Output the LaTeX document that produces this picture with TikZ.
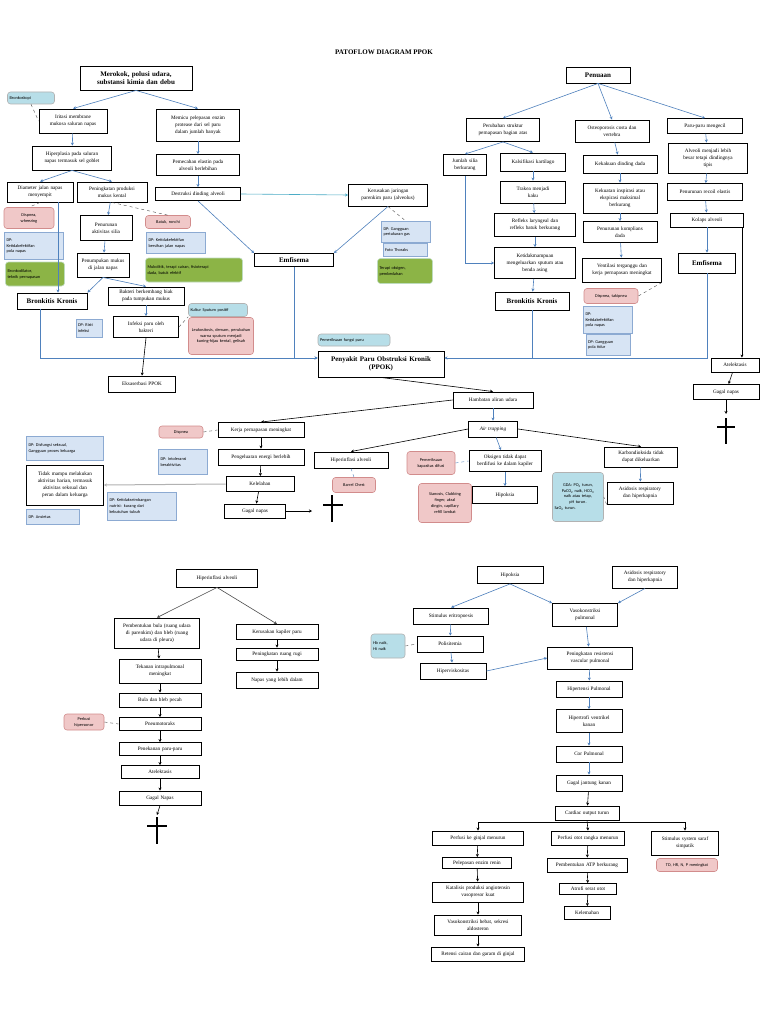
\documentclass[tikz,border=0pt]{standalone}
\usepackage{fontspec}
\setmainfont{Liberation Serif}
\setsansfont{Carlito}
\usetikzlibrary{arrows.meta}
\hyphenpenalty=10000 \exhyphenpenalty=10000
\definecolor{bl}{RGB}{79,129,189}
\definecolor{cy}{RGB}{75,172,198}
\definecolor{grn}{RGB}{140,180,70}
\definecolor{rf}{RGB}{240,200,200}
\definecolor{rd}{RGB}{210,140,140}
\definecolor{cf}{RGB}{183,222,232}
\definecolor{df}{RGB}{215,228,244}
\definecolor{dd}{RGB}{140,170,210}
\newcommand\B[6]{\pgfmathsetmacro\tw{#4-4}\node[box,minimum width=#4pt,minimum height=#5pt,text width=\tw pt] (#1) at (#2,#3) {#6};}
\newcommand\BB[6]{\pgfmathsetmacro\tw{#4-4}\node[box,big,minimum width=#4pt,minimum height=#5pt,text width=\tw pt] (#1) at (#2,#3) {#6};}
\newcommand\NT[7]{\pgfmathsetmacro\tw{#5-4}\node[#1,minimum width=#5pt,minimum height=#6pt,text width=\tw pt] (#2) at (#3,#4) {#7};}
\tikzset{
 box/.style={draw,line width=0.9pt,fill=white,inner xsep=2pt,inner ysep=1pt,align=center,font=\fontsize{5.2}{7}\selectfont},
 big/.style={font=\fontsize{7}{8.5}\selectfont\bfseries},
 note/.style={rounded corners=3pt,draw,line width=0.6pt,inner xsep=2pt,inner ysep=1pt,font=\sffamily\fontsize{4.3}{5.8}\selectfont},
 rn/.style={note,fill=rf,draw=rd,align=center},
 cn/.style={note,fill=cf,draw=gray!60,align=left},
 dn/.style={note,rounded corners=0pt,fill=df,draw=dd,align=left},
 gn/.style={note,fill=grn,draw=green!30!gray!40,align=left},
 ba/.style={draw=bl,-{Stealth[length=3pt,width=3pt]},line width=0.6pt},
 ka/.style={draw=black,-{Stealth[length=3pt,width=3pt]},line width=0.6pt},
 dl/.style={dashed,line width=0.4pt,draw=black!70},
 crs/.style={line width=1.3pt}
}
\begin{document}
\begin{tikzpicture}[x=1pt,y=-1pt]
\useasboundingbox[fill=white] (0,0) rectangle (768,1024);
\node[font=\fontsize{7}{8}\selectfont\bfseries] (title) at (384,52) {PATOFLOW DIAGRAM PPOK};
% ---------- top left
\BB{m}{136}{78}{112}{24}{Merokok, polusi udara,\\ substansi kimia dan debu}
\NT{cn}{bro}{31}{98}{47}{12}{Bronkoskopi}
\B{iri}{73}{121}{68}{24}{Iritasi membrane\\ mukosa saluran napas}
\B{mem}{198}{125}{83}{32}{Memicu pelepasan enzim\\ protease dari sel paru\\ dalam jumlah banyak}
\B{hip}{72}{158}{79}{24}{Hiperplasia pada saluran\\ napas termasuk sel goblet}
\B{pem}{198}{165}{83}{21}{Pemecahan elastin pada\\ alveoli berlebihan}
\B{dia}{40}{192}{66}{20}{Diameter jalan napas\\ menyempit}
\B{pen}{112}{192}{70}{20}{Peningkatan produksi\\ mukus kental}
\B{des}{198}{194}{85}{13}{Destruksi dinding alveoli}
\NT{rn}{dis1}{29}{218}{50}{21}{Dispnea,\\ wheezing}
\NT{dn}{dp1}{34}{246}{59}{27}{DP:\\ Ketidakefektifan\\ pola napas}
\NT{gn}{bkd}{35}{274}{59}{24}{Bronkodilator,\\ teknik pernapasan}
\NT{rn}{bat}{168}{222}{45}{13}{Batuk, ronchi}
\NT{dn}{dp2}{176}{243}{59}{21}{DP: Ketidakefektifan\\ bersihan jalan napas}
\B{sil}{106}{228}{52}{25}{Penurunan\\ aktivitas silia}
\B{tum}{103}{265}{52}{24}{Penumpukan mukus\\ di jalan napas}
\NT{gn}{muk}{194}{270}{97}{24}{Mukolitik, terapi cairan, fisioterapi\\ dada, batuk efektif}
\BB{emf}{294}{260}{79}{13}{Emfisema}
\BB{bk1}{52}{301}{70}{16}{Bronkitis Kronis}
\B{bak}{146}{296}{76}{18}{Bakteri berkembang biak\\ pada tumpukan mukus}
\B{inf}{146}{327}{65}{21}{Infeksi paru oleh\\ bakteri}
\NT{dn}{dpr}{89}{328}{26}{18}{DP: Risti\\ infeksi}
\NT{cn}{kul}{218}{310}{59}{13}{Kultur Sputum positif}
\NT{rn}{leu}{221}{336}{65}{37}{\raggedright Leukositosis, demam, perubahan warna sputum menjadi kuning-hijau kental, gelisah}
\NT{cn}{pfp}{354}{340}{72}{12}{Pemeriksaan fungsi paru}
\BB{ppok}{381}{364}{126}{26}{Penyakit Paru Obstruksi Kronik\\ (PPOK)}
\B{eks}{142}{384}{67}{16}{Eksaserbasi PPOK}
% ---------- top middle / right
\B{ker}{388}{195}{79}{22}{Kerusakan jaringan\\ parenkim paru (alveolus)}
\NT{dn}{dpg}{406}{232}{49}{21}{DP: Gangguan\\ pertukaran gas}
\NT{dn}{fot}{405}{250}{44}{13}{\centering Foto Thoraks}
\NT{gn}{ter}{405}{271}{55}{25}{Terapi oksigen,\\ pembedahan}
\BB{pnu}{598}{75}{64}{16}{Penuaan}
\B{pst}{503}{130}{73}{23}{Perubahan struktur\\ pernapasan bagian atas}
\B{ost}{612}{131}{74}{22}{Osteoporosis costa dan\\ vertebra}
\B{pmg}{705}{126}{75}{15}{Paru-paru mengecil}
\B{jsi}{465}{165}{43}{21}{Jumlah silia\\ berkurang}
\B{kal}{533}{162}{65}{18}{Kalsifikasi kartilago}
\B{kek}{620}{164}{74}{18}{Kekakuan dinding dada}
\B{alv}{708}{158}{79}{30}{Alveoli menjadi lebih\\ besar tetapi dindingnya\\ tipis}
\B{tra}{533}{192}{65}{22}{Trakea menjadi\\ kaku}
\B{kin}{620}{198}{74}{30}{Kekuatan inspirasi atau\\ ekspirasi maksimal\\ berkurang}
\B{rec}{705}{192}{75}{17}{Penurunan recoil elastis}
\B{kol}{707}{220}{73}{14}{Kolaps alveoli}
\B{ref}{535}{225}{81}{23}{Refleks laryngeal dan\\ refleks batuk berkurang}
\B{kom}{620}{232}{74}{21}{Penurunan komplians\\ dada}
\B{ktd}{535}{263}{81}{31}{Ketidakmampuan\\ mengeluarkan sputum atau\\ benda asing}
\B{ven}{622}{270}{79}{24}{Ventilasi terganggu dan\\ kerja pernapasan meningkat}
\BB{emf2}{707}{263}{57}{20}{Emfisema}
\BB{bk2}{532}{301}{74}{18}{Bronkitis Kronis}
\NT{rn}{dtk}{611}{296}{54}{15}{Dispnea, takipnea}
\NT{dn}{dp3}{608}{320}{49}{27}{DP:\\ Ketidakefektifan\\ pola napas}
\NT{dn}{dp4}{608}{345}{44}{21}{DP: Gangguan\\ pola tidur}
\B{ate}{735}{365}{48}{14}{Atelektasis}
\B{gn1}{726}{392}{66}{15}{Gagal napas}
% ---------- middle
\B{ham}{493}{400}{80}{16}{Hambatan aliran udara}
\B{air}{493}{429}{49}{16}{\textit{Air trapping}}
\B{hin}{351}{460}{74}{16}{Hiperinflasi alveoli}
\NT{rn}{bar}{354}{485}{43}{15}{Barrel Chest}
\NT{rn}{pkd}{431}{463}{48}{23}{Pemeriksaan\\ kapasitas difusi}
\B{oks}{505}{461}{72}{21}{Oksigen tidak dapat\\ berdifusi ke dalam kapiler}
\B{hpk}{505}{495}{65}{17}{Hipoksia}
\NT{rn}{sia}{445}{503}{53}{39}{Sianosis, Clubbing\\ finger, akral\\ dingin, capillary\\ refill lambat}
\B{kdk}{641}{457}{73}{20}{Karbondioksida tidak\\ dapat dikeluarkan}
\NT{cn}{gda}{578}{497}{51}{49}{\centering GDA: PO\textsubscript{2} turun,\\ PaCO\textsubscript{2} naik, HCO\textsubscript{3}\\ naik atau tetap,\\ pH turun.\\ SaO\textsubscript{2} turun.}
\B{asi}{640}{493}{66}{22}{Asidosis respiratory\\ dan hiperkapnia}
\NT{rn}{dsp}{181}{432}{44}{12}{Dispnea}
\B{kpm}{261}{430}{86}{15}{Kerja pernapasan meningkat}
\NT{dn}{dpd}{65}{448}{77}{24}{DP: Disfungsi seksual,\\ Gangguan proses keluarga}
\NT{dn}{dpi}{183}{462}{49}{25}{DP: Intoleransi\\ beraktivitas}
\B{pen2}{261}{457}{86}{16}{Pengeluaran energi berlebih}
\B{tdk}{65}{485}{77}{40}{Tidak mampu melakukan\\ aktivitas harian, termasuk\\ aktivitas seksual dan\\ peran dalam keluarga}
\B{kel}{260}{484}{68}{15}{Kelelahan}
\NT{dn}{dpk}{142}{506}{69}{28}{DP: Ketidakseimbangan\\ nutrisi: kurang dari\\ kebutuhan tubuh}
\NT{dn}{ans}{53}{517}{53}{15}{DP: Ansietas}
\B{gn2}{255}{511}{61}{14}{Gagal napas}
% ---------- bottom left
\B{h2}{217}{578}{81}{18}{Hiperinflasi alveoli}
\B{bul}{157}{633}{85}{30}{Pembentukan bula (ruang udara\\ di parenkim) dan bleb (ruang\\ udara di pleura)}
\B{kkp}{277}{632}{82}{15}{Kerusakan kapiler paru}
\B{prr}{277}{654}{82}{12}{Peningkatan ruang rugi}
\B{nld}{277}{680}{82}{16}{Napas yang lebih dalam}
\B{tip}{160}{671}{82}{24}{Tekanan intrapulmonal\\ meningkat}
\B{bbp}{160}{700}{82}{14}{Bula dan bleb pecah}
\B{pnt}{160}{724}{82}{13}{Pneumotoraks}
\NT{rn}{phs}{84}{722}{40}{16}{Perkusi\\ hipersonor}
\B{pkp}{160}{749}{82}{13}{Penekanan paru-paru}
\B{ate2}{160}{772}{78}{13}{Atelektasis}
\B{gn3}{160}{798}{82}{14}{Gagal Napas}
% ---------- bottom right
\B{hpx}{510}{575}{66}{17}{Hipoksia}
\B{as2}{645}{577}{65}{22}{Asidosis respiratory\\ dan hiperkapnia}
\B{ste}{451}{616}{75}{16}{Stimulus eritropoesis}
\B{vas}{585}{615}{65}{23}{Vasokonstriksi\\ pulmonal}
\B{pol}{450}{644}{66}{16}{Polisitemia}
\NT{cn}{hbn}{388}{646}{34}{24}{Hb naik,\\ Ht naik}
\B{hvs}{453}{671}{66}{16}{Hiperviskositas}
\B{prv}{590}{658}{85}{22}{Peningkatan resistensi\\ vascular pulmonal}
\B{hpt}{589}{689}{66}{16}{Hipertensi Pulmonal}
\B{hvk}{589}{721}{66}{23}{Hipertrofi ventrikel\\ kanan}
\B{cor}{589}{754}{66}{16}{Cor Pulmonal}
\B{gjk}{589}{783}{66}{16}{Gagal jantung kanan}
\B{cot}{587}{813}{64}{14}{Cardiac output turun}
\B{pgi}{478}{838}{91}{14}{Perfusi ke ginjal menurun}
\B{pot}{588}{838}{73}{14}{Perfusi otot rangka menurun}
\B{sss}{685}{843}{67}{24}{Stimulus system saraf\\ simpatik}
\NT{rn}{tdr}{687}{865}{61}{13}{TD, HR, N, P meningkat}
\B{per}{477}{863}{69}{11}{Pelepasan enzim renin}
\B{atp}{587}{865}{80}{14}{Pembentukan ATP berkurang}
\B{kat}{478}{892}{91}{20}{Katalisis produksi angiotensin\\ vasopresor kuat}
\B{aso}{588}{889}{57}{11}{Atrofi serat otot}
\B{kln}{587}{913}{46}{13}{Kelemahan}
\B{vkh}{478}{925}{87}{20}{Vasokonstriksi hebat, sekresi\\ aldosteron}
\B{ret}{478}{954}{93}{14}{Retensi cairan dan garam di ginjal}
% ---------- connectors top left
\draw[ba] (m.south) -- (iri.north);
\draw[ba] (m.south) -- (mem.north);
\draw[dl] (bro.south) -- (iri.west);
\draw[ba] (iri) -- (hip);
\draw[ba] (hip.south) -- (dia.north);
\draw[ba] (hip.south) -- (pen.north);
\draw[dl] (dia.south) -- (dis1.north);
\draw[ba] ([xshift=18pt]dia.south) -- ([xshift=18pt]dia.south |- bk1.north);
\draw[ba] (pen) -- (sil);
\draw[dl] (pen.south) -- (bat.north);
\draw[ba] (sil) -- (tum);
\draw[ba] (tum.south) -- (bk1.north east);
\draw[ba] (tum.south) -- (bak.north);
\draw[ba] (bak) -- (inf);
\draw[dl] (inf.east) -- (kul.south west);
\draw[ka] (inf.south) -- (eks.north);
\coordinate (pl) at ([yshift=6pt]ppok.west);
\coordinate (pr) at ([yshift=6pt]ppok.east);
\draw[ba] ([xshift=-12pt]bk1.south) |- (pl);
\draw[ba] (emf.south) |- (pl);
\draw[ba] (mem) -- (pem);
\draw[ba] (pem) -- (des);
\draw[draw=cy,-{Stealth[length=3pt,width=3pt]},line width=0.6pt] (des.east) -- (ker.west);
\draw[ba] (des.south) -- (emf.north west);
\draw[ba] (ker.south) -- (emf.north east);
\draw[dl] (ker.south) -- (dpg.north);
% ---------- connectors top right
\draw[ba] (pnu.south) -- (pst.north);
\draw[ba] (pnu.south) -- (ost.north);
\draw[ba] (pnu.south) -- (pmg.north);
\draw[ba] (pst.south) -- (jsi.north);
\draw[ba] (pst.south) -- (kal.north);
\draw[ba] (jsi.south) |- (ktd.west);
\draw[ba] (kal) -- (tra);
\draw[ba] (tra) -- (ref);
\draw[ba] (ref) -- (ktd);
\draw[ba] (ktd) -- (bk2);
\draw[ba] (ost) -- (kek);
\draw[ba] (kek) -- (kin);
\draw[ba] (kin) -- (kom);
\draw[ba] (kom) -- (ven);
\draw[dl] (ven.south east) -- (dtk.east);
\draw[ba] (pmg) -- (alv);
\draw[ba] (alv) -- (rec);
\draw[ba] (rec) -- (kol);
\draw[ba] (kol) -- (emf2);
\draw[ka] ([xshift=-2pt]kol.south east) -- ([xshift=-2pt]kol.south east |- ate.north);
\draw[ba] (emf2.south) |- (pr);
\draw[draw=bl,line width=0.6pt] (bk2.south) -- (bk2.south |- pr);
\draw[ka] (ate) -- (gn1);
\coordinate (x1) at (726,414);
\draw[ka] (gn1.south) -- (x1);
\draw[crs] (726,418) -- (726,444) (717,427) -- (735,427);
% ---------- middle
\draw[ka] (ppok.south) -- (ham.north);
\draw[ka] (ham.west) -- (kpm.north);
\draw[ba] (ham) -- (air);
\draw[ka] (air.west) -- (hin.north);
\draw[ba] (air) -- (oks);
\draw[ka] (air.east) -- (kdk.north);
\draw[dl,draw=bl] (hin.south) -- (bar.north);
\draw[dl,draw=bl] (pkd.east) -- (oks.west);
\draw[ba] (oks) -- (hpk);
\draw[dl] (hpk.south west) -- (sia.east);
\draw[ba] (kdk) -- (asi);
\draw[dl] (asi.south west) -- (gda.east);
\draw[dl] (dsp.east) -- (kpm.west);
\draw[ka] (kpm) -- (pen2);
\draw[ka] (pen2) -- (kel);
\draw[ka] (kel) -- (gn2);
\draw[ka,draw=gray!60,line width=1pt] (kel.west) -- (tdk.east);
\coordinate (x2) at (312,511);
\draw[ka] (gn2.east) -- (x2);
\draw[crs] (332,495) -- (332,522) (323,505) -- (343,505);
% ---------- bottom left
\draw[ka,draw=black!70] (h2.south) -- (bul.north);
\draw[ka,draw=black!70] (h2.south) -- (kkp.north);
\draw[ka] (bul) -- (tip);
\draw[ka] (tip) -- (bbp);
\draw[ka] (bbp) -- (pnt);
\draw[ka] (pnt) -- (pkp);
\draw[ka] (pkp) -- (ate2);
\draw[ka] (ate2) -- (gn3);
\draw[dl] (phs.east) -- (pnt.west);
\draw[ka] (kkp) -- (prr);
\draw[ka] (prr) -- (nld);
\coordinate (x3) at (157,815);
\draw[ka] (gn3.south) -- (x3);
\draw[crs] (157,817) -- (157,844) (147,826) -- (167,826);
% ---------- bottom right
\draw[ba] (hpx.south) -- (ste.north);
\draw[ba] (hpx.south) -- (vas.north west);
\draw[ba] (as2.south) -- (vas.north east);
\draw[ba] (ste) -- (pol);
\draw[ba] (pol) -- (hvs);
\draw[ba] (hvs.east) -- (prv.west);
\draw[dl] (hbn.east) -- (pol.west);
\draw[ba] (vas) -- (prv);
\draw[ba] (prv) -- (hpt);
\draw[ba] (hpt) -- (hvk);
\draw[ba] (hvk) -- (cor);
\draw[ba] (cor) -- (gjk);
\draw[ka] (gjk) -- (cot);
\coordinate (cb) at (587,822);
\draw[ka] (cot.south) -- (pot.north);
\draw[ka] (cb) -| (pgi.north);
\draw[ka] (cb) -| (sss.north);
\draw[ka] (pgi) -- (per);
\draw[ka] (per) -- (kat);
\draw[ka] (kat) -- (vkh);
\draw[ka] (vkh) -- (ret);
\draw[ka] (pot) -- (atp);
\draw[ka] (atp) -- (aso);
\draw[ka] (aso) -- (kln);
\end{tikzpicture}
\end{document}
